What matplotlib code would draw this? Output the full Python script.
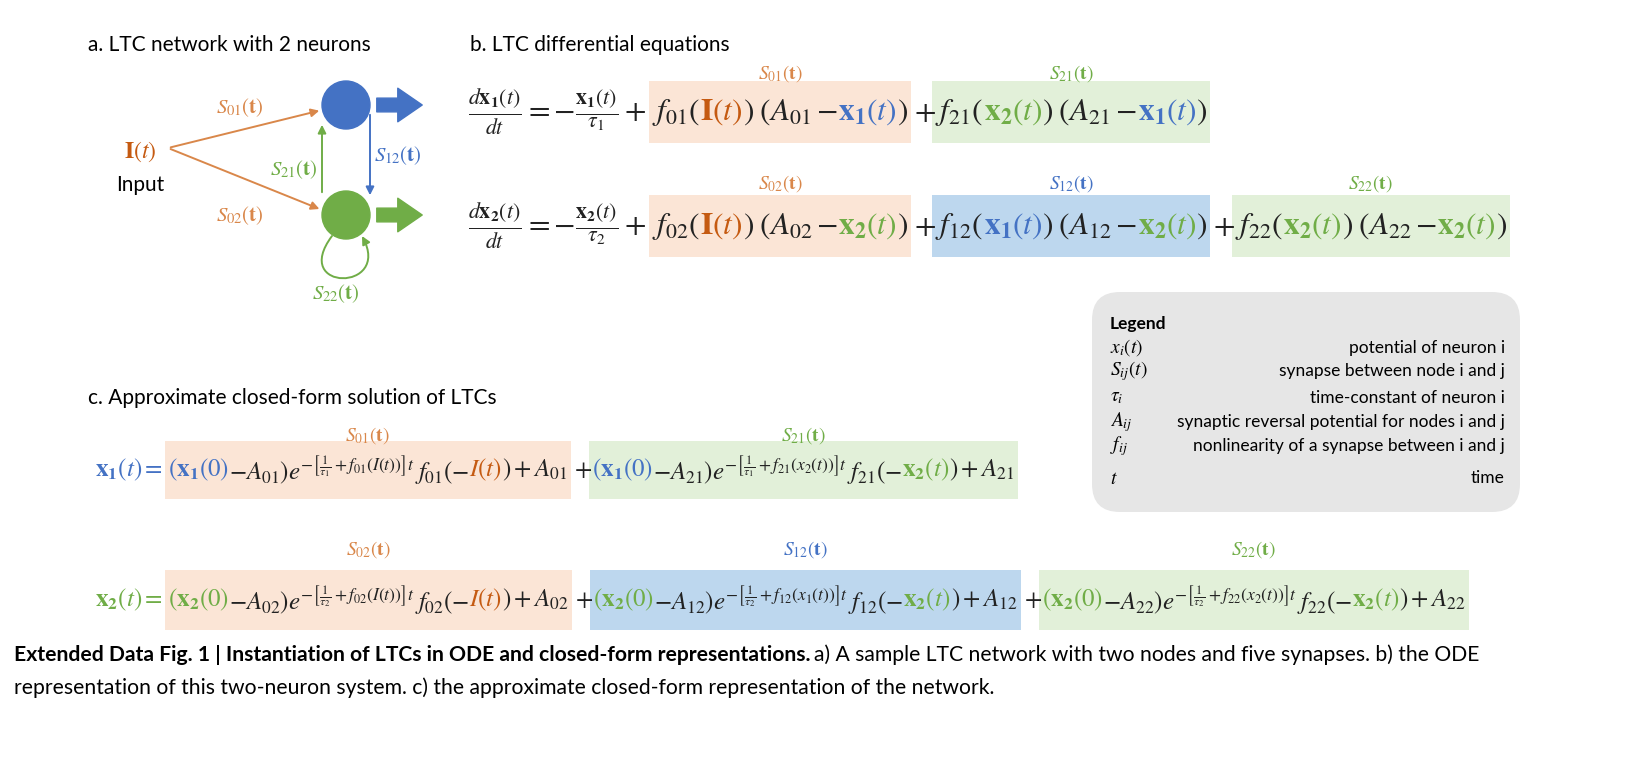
import matplotlib
matplotlib.use("Agg")
import matplotlib.pyplot as plt
from matplotlib.patches import Circle, Rectangle, FancyBboxPatch, FancyArrowPatch
from matplotlib.path import Path

plt.rcParams['mathtext.fontset'] = 'stix'
plt.rcParams['font.family'] = ['Lato', 'DejaVu Sans']

OR, BL, GR, K = '#C55A11', '#4472C4', '#70AD47', '#222222'
ORL = '#D9874A'
BG = {'o': '#FBE5D6', 'g': '#E2F0D9', 'b': '#BDD7EE'}
LC = {'o': ORL, 'g': GR, 'b': BL}

titles = ["a. LTC network with 2 neurons", "b. LTC differential equations",
          "c. Approximate closed-form solution of LTCs"]
legend_items = [(r"$x_i(t)$", "potential of neuron i"),
                (r"$S_{ij}(t)$", "synapse between node i and j"),
                (r"$\tau_i$", "time-constant of neuron i"),
                (r"$A_{ij}$", "synaptic reversal potential for nodes i and j"),
                (r"$f_{ij}$", "nonlinearity of a synapse between i and j"),
                (r"$t$", "time")]

fig = plt.figure(figsize=(16.36, 7.6), dpi=100)
ax = fig.add_axes([0, 0, 1, 1])
ax.set_xlim(0, 1636); ax.set_ylim(760, 0); ax.axis('off')
r = fig.canvas.get_renderer()

ax.text(88, 45, titles[0], fontsize=15, va='center')
ax.text(470, 45, titles[1], fontsize=15, va='center')
ax.text(88, 398, titles[2], fontsize=15, va='center')

# ---- network
ax.text(140, 152, r"$\mathbf{I}(t)$", color=OR, fontsize=17, ha='center', va='center')
ax.text(140, 185, "Input", fontsize=15, ha='center', va='center')
ax.add_patch(Circle((346, 105), 24, color=BL, zorder=3))
ax.add_patch(Circle((346, 215), 24, color=GR, zorder=3))
def arr(p, q, c, lw=1.4, ms=12, style='-|>'):
    ax.add_patch(FancyArrowPatch(p, q, arrowstyle=style, mutation_scale=ms, color=c, lw=lw, zorder=2))
arr((168, 148), (322, 110), ORL)
arr((168, 148), (322, 210), ORL)
arr((370, 112), (370, 198), BL)
arr((322, 195), (322, 122), GR)
ax.add_patch(FancyArrowPatch((374, 105), (425, 105), arrowstyle='simple,head_width=1.1,head_length=0.8,tail_width=0.45', mutation_scale=22, color=BL))
ax.add_patch(FancyArrowPatch((374, 215), (425, 215), arrowstyle='simple,head_width=1.1,head_length=0.8,tail_width=0.45', mutation_scale=22, color=GR))
loop = Path([(332, 236), (290, 292), (392, 292), (362, 236)], [Path.MOVETO, Path.CURVE4, Path.CURVE4, Path.CURVE4])
ax.add_patch(FancyArrowPatch(path=loop, arrowstyle='-|>', mutation_scale=12, color=GR, lw=1.4))
ax.text(240, 108, r"$S_{01}(\mathbf{t})$", color=ORL, fontsize=15, ha='center', va='center')
ax.text(240, 216, r"$S_{02}(\mathbf{t})$", color=ORL, fontsize=15, ha='center', va='center')
ax.text(294, 170, r"$S_{21}(\mathbf{t})$", color=GR, fontsize=15, ha='center', va='center')
ax.text(398, 156, r"$S_{12}(\mathbf{t})$", color=BL, fontsize=15, ha='center', va='center')
ax.text(336, 294, r"$S_{22}(\mathbf{t})$", color=GR, fontsize=15, ha='center', va='center')

def seq(x, y, groups, fs, h, lab_dy):
    for bg, lab, pieces in groups:
        x0 = x
        for s, c in pieces:
            t = ax.text(x, y, s, color=c, fontsize=fs, va='center', ha='left', zorder=3)
            x += t.get_window_extent(r).width
        if bg:
            ax.add_patch(Rectangle((x0 - 3, y - h / 2), x - x0 + 6, h, color=BG[bg], zorder=1, lw=0))
            ax.text((x0 + x) / 2, y - lab_dy, lab, color=LC[bg], fontsize=14, ha='center', va='center')
            x += 6

x1b, x2b = r"\mathbf{x}_\mathbf{1}", r"\mathbf{x}_\mathbf{2}"
It = r"\mathbf{I}"
# ---- b equations
seq(468, 112, [
    (None, None, [(r"$\frac{d\mathbf{x_1}(t)}{dt} = -\frac{\mathbf{x_1}(t)}{\tau_1}+$ ", K)]),
    ('o', r"$S_{01}(\mathbf{t})$", [(r"$f_{01}($", K), (rf"${It}(t)$", OR), (r"$)\;(A_{01}-$", K), (rf"${x1b}(t)$", BL), (r"$)$", K)]),
    (None, None, [(r"$+$", K)]),
    ('g', r"$S_{21}(\mathbf{t})$", [(r"$f_{21}($", K), (rf"${x2b}(t)$", GR), (r"$)\;(A_{21}-$", K), (rf"${x1b}(t)$", BL), (r"$)$", K)]),
], 22.5, 62, 38)
seq(468, 226, [
    (None, None, [(r"$\frac{d\mathbf{x_2}(t)}{dt} = -\frac{\mathbf{x_2}(t)}{\tau_2}+$ ", K)]),
    ('o', r"$S_{02}(\mathbf{t})$", [(r"$f_{02}($", K), (rf"${It}(t)$", OR), (r"$)\;(A_{02}-$", K), (rf"${x2b}(t)$", GR), (r"$)$", K)]),
    (None, None, [(r"$+$", K)]),
    ('b', r"$S_{12}(\mathbf{t})$", [(r"$f_{12}($", K), (rf"${x1b}(t)$", BL), (r"$)\;(A_{12}-$", K), (rf"${x2b}(t)$", GR), (r"$)$", K)]),
    (None, None, [(r"$+$", K)]),
    ('g', r"$S_{22}(\mathbf{t})$", [(r"$f_{22}($", K), (rf"${x2b}(t)$", GR), (r"$)\;(A_{22}-$", K), (rf"${x2b}(t)$", GR), (r"$)$", K)]),
], 22.5, 62, 42)

# ---- c equations
def term(xb, xc, i, j, tau, inner, innc, fneg, fnegc):
    return [(rf"$({xb}(0)$", xc), (rf"$-A_{{{i}{j}}})e^{{-\left[\frac{{1}}{{\tau_{tau}}}+f_{{{i}{j}}}({inner})\right]t}}\;f_{{{i}{j}}}(-$", K),
            (rf"${fneg}(t)$", fnegc), (rf"$)+A_{{{i}{j}}}$", K)]
seq(95, 470, [
    (None, None, [(rf"${x1b}(t)=$ ", BL)]),
    ('o', r"$S_{01}(\mathbf{t})$", term(x1b, BL, 0, 1, 1, "I(t)", OR, "I", OR)),
    (None, None, [(r"$+$", K)]),
    ('g', r"$S_{21}(\mathbf{t})$", term(x1b, BL, 2, 1, 1, "x_2(t)", GR, x2b, GR)),
], 18, 58, 34)
seq(95, 600, [
    (None, None, [(rf"${x2b}(t)=$ ", GR)]),
    ('o', r"$S_{02}(\mathbf{t})$", term(x2b, GR, 0, 2, 2, "I(t)", OR, "I", OR)),
    (None, None, [(r"$+$", K)]),
    ('b', r"$S_{12}(\mathbf{t})$", term(x2b, GR, 1, 2, 2, "x_1(t)", BL, x2b, GR)),
    (None, None, [(r"$+$", K)]),
    ('g', r"$S_{22}(\mathbf{t})$", term(x2b, GR, 2, 2, 2, "x_2(t)", GR, x2b, GR)),
], 18, 60, 50)

# ---- legend
ax.add_patch(FancyBboxPatch((1092, 292), 428, 220, boxstyle='round,pad=0,rounding_size=28', color='#E6E6E6', lw=0))
ax.text(1110, 324, "Legend", fontsize=12.5, fontweight='bold', va='center')
for k, (a, b) in enumerate(legend_items):
    y = [348, 371, 398, 422, 446, 478][k]
    ax.text(1110, y, a, fontsize=14, va='center')
    ax.text(1505, y, b, fontsize=12.5, va='center', ha='right')

# ---- caption
t = ax.text(14, 655, "Extended Data Fig. 1 | Instantiation of LTCs in ODE and closed-form representations.",
            fontsize=15.2, fontweight='bold', va='center')
w = t.get_window_extent(r).width
ax.text(14 + w + 4, 655, "a) A sample LTC network with two nodes and five synapses. b) the ODE",
        fontsize=15.2, va='center')
ax.text(14, 688, "representation of this two-neuron system. c) the approximate closed-form representation of the network.",
        fontsize=15.2, va='center')

fig.savefig("out.png", dpi=100)
